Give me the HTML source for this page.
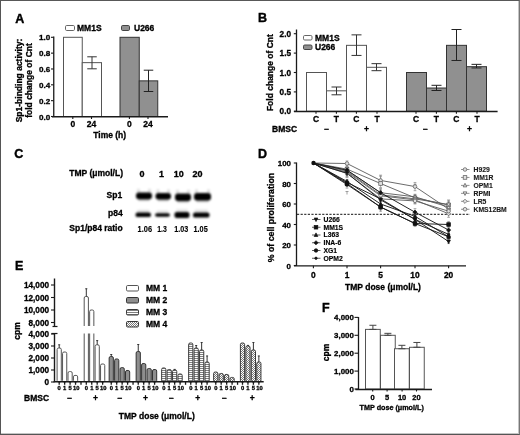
<!DOCTYPE html>
<html><head><meta charset="utf-8"><style>
html,body{margin:0;padding:0;background:#fff;}
.fig{position:relative;width:520px;height:435px;overflow:hidden;background:#fff;}
.fig svg{position:absolute;left:0;top:0;}
.frame{position:absolute;left:0;top:0;width:520px;height:435px;box-sizing:border-box;border-left:1px solid #555;border-top:1px solid #585858;border-right:1px solid #777;border-bottom:1px solid #555;box-shadow:inset -1px -1px 0 #c4c4c4;pointer-events:none;}
</style></head><body>
<div class="fig">
<svg width="520" height="435" viewBox="0 0 520 435" font-family="'Liberation Sans', Arial, sans-serif" font-weight="bold">
<text x="15.3" y="23.3" font-size="12.5" text-anchor="start" fill="#000" stroke="#000" stroke-width="0.4" >A</text>
<rect x="65.5" y="25.5" width="9" height="5" fill="#fff" stroke="#666" stroke-width="1" rx="1.2"/>
<text x="77" y="31" font-size="8.5" text-anchor="start" fill="#000" stroke="#000" stroke-width="0.3" >MM1S</text>
<rect x="121.5" y="25.5" width="8" height="5" fill="#909090" stroke="#444" stroke-width="1" rx="1.2"/>
<text x="134" y="31" font-size="8.5" text-anchor="start" fill="#000" stroke="#000" stroke-width="0.3" >U266</text>
<text transform="translate(22.4,80.5) rotate(-90)" font-size="8.5" text-anchor="middle" fill="#000" stroke="#000" stroke-width="0.3">Sp1-binding activity:</text>
<text transform="translate(32,80.5) rotate(-90)" font-size="8.5" text-anchor="middle" fill="#000" stroke="#000" stroke-width="0.3">fold change of Cnt</text>
<line x1="53.75" y1="36.5" x2="53.75" y2="117" stroke="#1a1a1a" stroke-width="1.3" />
<line x1="51" y1="116.5" x2="53.75" y2="116.5" stroke="#1a1a1a" stroke-width="1.1" />
<text x="50.3" y="119.5" font-size="8.1" text-anchor="end" fill="#000" stroke="#000" stroke-width="0.3" >0.0</text>
<line x1="51" y1="100.66" x2="53.75" y2="100.66" stroke="#1a1a1a" stroke-width="1.1" />
<text x="50.3" y="103.66" font-size="8.1" text-anchor="end" fill="#000" stroke="#000" stroke-width="0.3" >0.2</text>
<line x1="51" y1="84.82" x2="53.75" y2="84.82" stroke="#1a1a1a" stroke-width="1.1" />
<text x="50.3" y="87.82" font-size="8.1" text-anchor="end" fill="#000" stroke="#000" stroke-width="0.3" >0.4</text>
<line x1="51" y1="68.97999999999999" x2="53.75" y2="68.97999999999999" stroke="#1a1a1a" stroke-width="1.1" />
<text x="50.3" y="71.97999999999999" font-size="8.1" text-anchor="end" fill="#000" stroke="#000" stroke-width="0.3" >0.6</text>
<line x1="51" y1="53.13999999999999" x2="53.75" y2="53.13999999999999" stroke="#1a1a1a" stroke-width="1.1" />
<text x="50.3" y="56.13999999999999" font-size="8.1" text-anchor="end" fill="#000" stroke="#000" stroke-width="0.3" >0.8</text>
<line x1="51" y1="37.3" x2="53.75" y2="37.3" stroke="#1a1a1a" stroke-width="1.1" />
<text x="50.3" y="40.3" font-size="8.1" text-anchor="end" fill="#000" stroke="#000" stroke-width="0.3" >1.0</text>
<rect x="63.5" y="37.3" width="18.75" height="79.2" fill="#fff" stroke="#555" stroke-width="1" />
<rect x="82.25" y="62.64399999999999" width="19.25" height="53.85600000000001" fill="#fff" stroke="#555" stroke-width="1" />
<rect x="120" y="37.3" width="19.25" height="79.2" fill="#909090" stroke="#333" stroke-width="1" />
<rect x="139.25" y="80.86" width="18.5" height="35.64" fill="#909090" stroke="#333" stroke-width="1" />
<line x1="92" y1="56.8" x2="92" y2="68.8" stroke="#333" stroke-width="1" />
<line x1="87.25" y1="56.8" x2="96.75" y2="56.8" stroke="#333" stroke-width="1" />
<line x1="87.25" y1="68.8" x2="96.75" y2="68.8" stroke="#333" stroke-width="1" />
<line x1="148.5" y1="70.2" x2="148.5" y2="91.5" stroke="#222" stroke-width="1" />
<line x1="143.75" y1="70.2" x2="153.25" y2="70.2" stroke="#222" stroke-width="1" />
<line x1="143.75" y1="91.5" x2="153.25" y2="91.5" stroke="#222" stroke-width="1" />
<line x1="52" y1="116.75" x2="168" y2="116.75" stroke="#1a1a1a" stroke-width="1.3" />
<line x1="72.8" y1="116.75" x2="72.8" y2="119" stroke="#1a1a1a" stroke-width="1.1" />
<text x="72.8" y="127" font-size="8.5" text-anchor="middle" fill="#000" stroke="#000" stroke-width="0.3" >0</text>
<line x1="91.5" y1="116.75" x2="91.5" y2="119" stroke="#1a1a1a" stroke-width="1.1" />
<text x="91.5" y="127" font-size="8.5" text-anchor="middle" fill="#000" stroke="#000" stroke-width="0.3" >24</text>
<line x1="129.4" y1="116.75" x2="129.4" y2="119" stroke="#1a1a1a" stroke-width="1.1" />
<text x="129.4" y="127" font-size="8.5" text-anchor="middle" fill="#000" stroke="#000" stroke-width="0.3" >0</text>
<line x1="148" y1="116.75" x2="148" y2="119" stroke="#1a1a1a" stroke-width="1.1" />
<text x="148" y="127" font-size="8.5" text-anchor="middle" fill="#000" stroke="#000" stroke-width="0.3" >24</text>
<text x="109.7" y="137.5" font-size="8.5" text-anchor="middle" fill="#000" stroke="#000" stroke-width="0.3" >Time (h)</text>
<text x="258" y="22.4" font-size="12.5" text-anchor="start" fill="#000" stroke="#000" stroke-width="0.4" >B</text>
<line x1="296.5" y1="29.5" x2="296.5" y2="111.8" stroke="#1a1a1a" stroke-width="1.3" />
<line x1="293.8" y1="111.3" x2="296.5" y2="111.3" stroke="#1a1a1a" stroke-width="1.1" />
<text x="291" y="114.3" font-size="8.2" text-anchor="end" fill="#000" stroke="#000" stroke-width="0.3" >0.0</text>
<line x1="293.8" y1="91.9" x2="296.5" y2="91.9" stroke="#1a1a1a" stroke-width="1.1" />
<text x="291" y="94.9" font-size="8.2" text-anchor="end" fill="#000" stroke="#000" stroke-width="0.3" >0.5</text>
<line x1="293.8" y1="72.5" x2="296.5" y2="72.5" stroke="#1a1a1a" stroke-width="1.1" />
<text x="291" y="75.5" font-size="8.2" text-anchor="end" fill="#000" stroke="#000" stroke-width="0.3" >1.0</text>
<line x1="293.8" y1="53.1" x2="296.5" y2="53.1" stroke="#1a1a1a" stroke-width="1.1" />
<text x="291" y="56.1" font-size="8.2" text-anchor="end" fill="#000" stroke="#000" stroke-width="0.3" >1.5</text>
<line x1="293.8" y1="33.7" x2="296.5" y2="33.7" stroke="#1a1a1a" stroke-width="1.1" />
<text x="291" y="36.7" font-size="8.2" text-anchor="end" fill="#000" stroke="#000" stroke-width="0.3" >2.0</text>
<text transform="translate(273,72.6) rotate(-90)" font-size="8.5" text-anchor="middle" fill="#000" stroke="#000" stroke-width="0.3">Fold change of Cnt</text>
<rect x="303.5" y="35.5" width="8.5" height="4.5" fill="#fff" stroke="#666" stroke-width="1" rx="1.2"/>
<text x="315" y="40.8" font-size="8.5" text-anchor="start" fill="#000" stroke="#000" stroke-width="0.3" >MM1S</text>
<rect x="303.5" y="45" width="8.5" height="4.5" fill="#909090" stroke="#444" stroke-width="1" rx="1.2"/>
<text x="315" y="50.3" font-size="8.5" text-anchor="start" fill="#000" stroke="#000" stroke-width="0.3" >U266</text>
<rect x="306.5" y="72.5" width="20" height="38.8" fill="#fff" stroke="#555" stroke-width="1" />
<rect x="326.5" y="90.8136" width="20" height="20.486400000000003" fill="#fff" stroke="#555" stroke-width="1" />
<rect x="346.5" y="45.34" width="20" height="65.96" fill="#fff" stroke="#555" stroke-width="1" />
<rect x="366.5" y="67.30080000000001" width="20" height="43.99919999999999" fill="#fff" stroke="#555" stroke-width="1" />
<rect x="406.5" y="72.5" width="20" height="38.8" fill="#909090" stroke="#333" stroke-width="1" />
<rect x="426.5" y="88.02" width="20" height="23.28" fill="#909090" stroke="#333" stroke-width="1" />
<rect x="446.5" y="45.34" width="20" height="65.96" fill="#909090" stroke="#333" stroke-width="1" />
<rect x="466.5" y="66.68" width="20" height="44.61999999999999" fill="#909090" stroke="#333" stroke-width="1" />
<line x1="336.5" y1="87.0112" x2="336.5" y2="94.81" stroke="#333" stroke-width="1" />
<line x1="331.5" y1="87.0112" x2="341.5" y2="87.0112" stroke="#333" stroke-width="1" />
<line x1="331.5" y1="94.81" x2="341.5" y2="94.81" stroke="#333" stroke-width="1" />
<line x1="356.5" y1="34.864000000000004" x2="356.5" y2="55.428000000000004" stroke="#333" stroke-width="1" />
<line x1="351.5" y1="34.864000000000004" x2="361.5" y2="34.864000000000004" stroke="#333" stroke-width="1" />
<line x1="351.5" y1="55.428000000000004" x2="361.5" y2="55.428000000000004" stroke="#333" stroke-width="1" />
<line x1="376.5" y1="63.653600000000004" x2="376.5" y2="70.6764" stroke="#333" stroke-width="1" />
<line x1="371.5" y1="63.653600000000004" x2="381.5" y2="63.653600000000004" stroke="#333" stroke-width="1" />
<line x1="371.5" y1="70.6764" x2="381.5" y2="70.6764" stroke="#333" stroke-width="1" />
<line x1="436.5" y1="85.304" x2="436.5" y2="90.50319999999999" stroke="#222" stroke-width="1" />
<line x1="431.5" y1="85.304" x2="441.5" y2="85.304" stroke="#222" stroke-width="1" />
<line x1="431.5" y1="90.50319999999999" x2="441.5" y2="90.50319999999999" stroke="#222" stroke-width="1" />
<line x1="456.5" y1="29.509600000000006" x2="456.5" y2="60.472" stroke="#222" stroke-width="1" />
<line x1="451.5" y1="29.509600000000006" x2="461.5" y2="29.509600000000006" stroke="#222" stroke-width="1" />
<line x1="451.5" y1="60.472" x2="461.5" y2="60.472" stroke="#222" stroke-width="1" />
<line x1="476.5" y1="64.352" x2="476.5" y2="67.96039999999999" stroke="#222" stroke-width="1" />
<line x1="471.5" y1="64.352" x2="481.5" y2="64.352" stroke="#222" stroke-width="1" />
<line x1="471.5" y1="67.96039999999999" x2="481.5" y2="67.96039999999999" stroke="#222" stroke-width="1" />
<line x1="294" y1="111.5" x2="497.6" y2="111.5" stroke="#1a1a1a" stroke-width="1.3" />
<line x1="316" y1="111.5" x2="316" y2="113.8" stroke="#1a1a1a" stroke-width="1.1" />
<text x="316" y="122" font-size="8.5" text-anchor="middle" fill="#000" stroke="#000" stroke-width="0.3" >C</text>
<line x1="336.4" y1="111.5" x2="336.4" y2="113.8" stroke="#1a1a1a" stroke-width="1.1" />
<text x="336.4" y="122" font-size="8.5" text-anchor="middle" fill="#000" stroke="#000" stroke-width="0.3" >T</text>
<line x1="356.4" y1="111.5" x2="356.4" y2="113.8" stroke="#1a1a1a" stroke-width="1.1" />
<text x="356.4" y="122" font-size="8.5" text-anchor="middle" fill="#000" stroke="#000" stroke-width="0.3" >C</text>
<line x1="377" y1="111.5" x2="377" y2="113.8" stroke="#1a1a1a" stroke-width="1.1" />
<text x="377" y="122" font-size="8.5" text-anchor="middle" fill="#000" stroke="#000" stroke-width="0.3" >T</text>
<line x1="416" y1="111.5" x2="416" y2="113.8" stroke="#1a1a1a" stroke-width="1.1" />
<text x="416" y="122" font-size="8.5" text-anchor="middle" fill="#000" stroke="#000" stroke-width="0.3" >C</text>
<line x1="436.4" y1="111.5" x2="436.4" y2="113.8" stroke="#1a1a1a" stroke-width="1.1" />
<text x="436.4" y="122" font-size="8.5" text-anchor="middle" fill="#000" stroke="#000" stroke-width="0.3" >T</text>
<line x1="456.4" y1="111.5" x2="456.4" y2="113.8" stroke="#1a1a1a" stroke-width="1.1" />
<text x="456.4" y="122" font-size="8.5" text-anchor="middle" fill="#000" stroke="#000" stroke-width="0.3" >C</text>
<line x1="477" y1="111.5" x2="477" y2="113.8" stroke="#1a1a1a" stroke-width="1.1" />
<text x="477" y="122" font-size="8.5" text-anchor="middle" fill="#000" stroke="#000" stroke-width="0.3" >T</text>
<text x="272" y="131.5" font-size="8.5" text-anchor="start" fill="#000" stroke="#000" stroke-width="0.3" >BMSC</text>
<text x="326.8" y="132" font-size="8.5" text-anchor="middle" fill="#000" stroke="#000" stroke-width="0.3" >−</text>
<text x="366.6" y="132" font-size="8.5" text-anchor="middle" fill="#000" stroke="#000" stroke-width="0.3" >+</text>
<text x="425.5" y="132" font-size="8.5" text-anchor="middle" fill="#000" stroke="#000" stroke-width="0.3" >−</text>
<text x="469.6" y="132" font-size="8.5" text-anchor="middle" fill="#000" stroke="#000" stroke-width="0.3" >+</text>
<text x="14.3" y="158.1" font-size="12.5" text-anchor="start" fill="#000" stroke="#000" stroke-width="0.4" >C</text>
<text x="69.3" y="175.6" font-size="8.5" text-anchor="start" fill="#000" stroke="#000" stroke-width="0.3" >TMP (μmol/L)</text>
<text x="142.1" y="177.4" font-size="9" text-anchor="middle" fill="#000" stroke="#000" stroke-width="0.3" >0</text>
<text x="161.6" y="177.4" font-size="9" text-anchor="middle" fill="#000" stroke="#000" stroke-width="0.3" >1</text>
<text x="178.8" y="177.4" font-size="9" text-anchor="middle" fill="#000" stroke="#000" stroke-width="0.3" >10</text>
<text x="197.5" y="177.4" font-size="9" text-anchor="middle" fill="#000" stroke="#000" stroke-width="0.3" >20</text>
<text x="122.2" y="198.1" font-size="8.5" text-anchor="end" fill="#000" stroke="#000" stroke-width="0.3" >Sp1</text>
<text x="122.7" y="216.4" font-size="8.5" text-anchor="end" fill="#000" stroke="#000" stroke-width="0.3" >p84</text>
<text x="69.3" y="231.1" font-size="8.5" text-anchor="start" fill="#000" stroke="#000" stroke-width="0.3" >Sp1/p84 ratio</text>
<text x="137.6" y="232.2" font-size="8.5" textLength="14.4" lengthAdjust="spacingAndGlyphs" fill="#000" stroke="#000" stroke-width="0.12">1.06</text>
<text x="157.2" y="232.2" font-size="8.5" textLength="9.6" lengthAdjust="spacingAndGlyphs" fill="#000" stroke="#000" stroke-width="0.12">1.3</text>
<text x="174.3" y="232.2" font-size="8.5" textLength="13.9" lengthAdjust="spacingAndGlyphs" fill="#000" stroke="#000" stroke-width="0.12">1.03</text>
<text x="193.5" y="232.2" font-size="8.5" textLength="14.2" lengthAdjust="spacingAndGlyphs" fill="#000" stroke="#000" stroke-width="0.12">1.05</text>
<g filter="url(#blur1)">
<rect x="136" y="192.4" width="16" height="6.8" rx="3" fill="#000"/>
<rect x="137" y="188.4" width="3" height="4.5" rx="1.5" fill="#000" opacity="0.13"/>
<rect x="148" y="188.4" width="3" height="4.5" rx="1.5" fill="#000" opacity="0.13"/>
<rect x="138" y="198.9" width="12" height="2" rx="1" fill="#000" opacity="0.22"/>
<rect x="155.5" y="193.0" width="15.5" height="6.6" rx="3" fill="#000"/>
<rect x="156.5" y="189.0" width="3" height="4.5" rx="1.5" fill="#000" opacity="0.13"/>
<rect x="167" y="189.0" width="3" height="4.5" rx="1.5" fill="#000" opacity="0.13"/>
<rect x="157.5" y="199.3" width="11.5" height="2" rx="1" fill="#000" opacity="0.22"/>
<rect x="175" y="193.39999999999998" width="16" height="7.6" rx="3" fill="#000"/>
<rect x="176" y="189.39999999999998" width="3" height="4.5" rx="1.5" fill="#000" opacity="0.13"/>
<rect x="187" y="189.39999999999998" width="3" height="4.5" rx="1.5" fill="#000" opacity="0.13"/>
<rect x="177" y="200.7" width="12" height="2" rx="1" fill="#000" opacity="0.22"/>
<rect x="194" y="193.10000000000002" width="17" height="7.4" rx="3" fill="#000"/>
<rect x="195" y="189.10000000000002" width="3" height="4.5" rx="1.5" fill="#000" opacity="0.13"/>
<rect x="207" y="189.10000000000002" width="3" height="4.5" rx="1.5" fill="#000" opacity="0.13"/>
<rect x="196" y="200.2" width="13" height="2" rx="1" fill="#000" opacity="0.22"/>
<rect x="135.5" y="212.5" width="15.5" height="4.6" rx="2.2" fill="#000"/>
<rect x="137.0" y="209.7" width="12.5" height="2" rx="1" fill="#000" opacity="0.12"/>
<rect x="155" y="213.2" width="15" height="3.6" rx="2.2" fill="#000"/>
<rect x="156.5" y="210.39999999999998" width="12" height="2" rx="1" fill="#000" opacity="0.12"/>
<rect x="174.5" y="212.0" width="15.0" height="6" rx="2.2" fill="#000"/>
<rect x="176.0" y="209.2" width="12.0" height="2" rx="1" fill="#000" opacity="0.12"/>
<rect x="193" y="212.4" width="16.5" height="5.2" rx="2.2" fill="#000"/>
<rect x="194.5" y="209.6" width="13.5" height="2" rx="1" fill="#000" opacity="0.12"/>
</g>
<text x="258" y="158.1" font-size="12.5" text-anchor="start" fill="#000" stroke="#000" stroke-width="0.4" >D</text>
<line x1="296.5" y1="162.5" x2="296.5" y2="266" stroke="#1a1a1a" stroke-width="1.3" />
<line x1="293.8" y1="265.5" x2="296.5" y2="265.5" stroke="#1a1a1a" stroke-width="1.1" />
<text x="291" y="268.5" font-size="7.9" text-anchor="end" fill="#000" stroke="#000" stroke-width="0.3" >0</text>
<line x1="293.8" y1="245.0" x2="296.5" y2="245.0" stroke="#1a1a1a" stroke-width="1.1" />
<text x="291" y="248.0" font-size="7.9" text-anchor="end" fill="#000" stroke="#000" stroke-width="0.3" >20</text>
<line x1="293.8" y1="224.5" x2="296.5" y2="224.5" stroke="#1a1a1a" stroke-width="1.1" />
<text x="291" y="227.5" font-size="7.9" text-anchor="end" fill="#000" stroke="#000" stroke-width="0.3" >40</text>
<line x1="293.8" y1="204.0" x2="296.5" y2="204.0" stroke="#1a1a1a" stroke-width="1.1" />
<text x="291" y="207.0" font-size="7.9" text-anchor="end" fill="#000" stroke="#000" stroke-width="0.3" >60</text>
<line x1="293.8" y1="183.5" x2="296.5" y2="183.5" stroke="#1a1a1a" stroke-width="1.1" />
<text x="291" y="186.5" font-size="7.9" text-anchor="end" fill="#000" stroke="#000" stroke-width="0.3" >80</text>
<line x1="293.8" y1="163.0" x2="296.5" y2="163.0" stroke="#1a1a1a" stroke-width="1.1" />
<text x="291" y="166.0" font-size="7.9" text-anchor="end" fill="#000" stroke="#000" stroke-width="0.3" >100</text>
<text transform="translate(274.2,217.6) rotate(-90)" font-size="8.8" text-anchor="middle" fill="#000" stroke="#000" stroke-width="0.3">% of cell proliferation</text>
<line x1="294" y1="265.8" x2="466" y2="265.8" stroke="#1a1a1a" stroke-width="1.3" />
<line x1="313.4" y1="265.8" x2="313.4" y2="268.3" stroke="#1a1a1a" stroke-width="1.1" />
<text x="313.4" y="278" font-size="8.4" text-anchor="middle" fill="#000" stroke="#000" stroke-width="0.3" >0</text>
<line x1="347" y1="265.8" x2="347" y2="268.3" stroke="#1a1a1a" stroke-width="1.1" />
<text x="347" y="278" font-size="8.4" text-anchor="middle" fill="#000" stroke="#000" stroke-width="0.3" >1</text>
<line x1="380.6" y1="265.8" x2="380.6" y2="268.3" stroke="#1a1a1a" stroke-width="1.1" />
<text x="380.6" y="278" font-size="8.4" text-anchor="middle" fill="#000" stroke="#000" stroke-width="0.3" >5</text>
<line x1="415" y1="265.8" x2="415" y2="268.3" stroke="#1a1a1a" stroke-width="1.1" />
<text x="415" y="278" font-size="8.4" text-anchor="middle" fill="#000" stroke="#000" stroke-width="0.3" >10</text>
<line x1="448.6" y1="265.8" x2="448.6" y2="268.3" stroke="#1a1a1a" stroke-width="1.1" />
<text x="448.6" y="278" font-size="8.4" text-anchor="middle" fill="#000" stroke="#000" stroke-width="0.3" >20</text>
<text x="383" y="290.2" font-size="8.5" text-anchor="middle" fill="#000" stroke="#000" stroke-width="0.3" >TMP dose (μmol/L)</text>
<line x1="297" y1="214.3" x2="470" y2="214.3" stroke="#111" stroke-width="1" stroke-dasharray="2.2,1.4"/>
<polyline points="313.4,163.00 347,163.51 380.6,180.43 415,186.57 448.6,209.12" fill="none" stroke="#5a5a5a" stroke-width="0.9"/>
<polyline points="313.4,163.00 347,169.15 380.6,183.50 415,197.85 448.6,205.03" fill="none" stroke="#5a5a5a" stroke-width="0.9"/>
<polyline points="313.4,163.00 347,170.18 380.6,192.73 415,196.82 448.6,207.07" fill="none" stroke="#5a5a5a" stroke-width="0.9"/>
<polyline points="313.4,163.00 347,171.20 380.6,194.78 415,198.88 448.6,204.51" fill="none" stroke="#5a5a5a" stroke-width="0.9"/>
<polyline points="313.4,163.00 347,172.23 380.6,195.80 415,199.90 448.6,213.74" fill="none" stroke="#5a5a5a" stroke-width="0.9"/>
<polyline points="313.4,163.00 347,173.25 380.6,198.88 415,200.93 448.6,211.18" fill="none" stroke="#5a5a5a" stroke-width="0.9"/>
<polyline points="313.4,163.00 347,173.25 380.6,199.90 415,219.38 448.6,241.52" fill="none" stroke="#1a1a1a" stroke-width="0.95"/>
<polyline points="313.4,163.00 347,183.50 380.6,207.07 415,223.47 448.6,224.50" fill="none" stroke="#1a1a1a" stroke-width="0.95"/>
<polyline points="313.4,163.00 347,181.45 380.6,204.00 415,216.30 448.6,236.80" fill="none" stroke="#1a1a1a" stroke-width="0.95"/>
<polyline points="313.4,163.00 347,170.18 380.6,192.73 415,212.20 448.6,230.03" fill="none" stroke="#1a1a1a" stroke-width="0.95"/>
<polyline points="313.4,163.00 347,184.53 380.6,207.07 415,223.47 448.6,236.80" fill="none" stroke="#1a1a1a" stroke-width="0.95"/>
<polyline points="313.4,163.00 347,182.48 380.6,198.88 415,219.38 448.6,234.34" fill="none" stroke="#1a1a1a" stroke-width="0.95"/>
<line x1="347" y1="160.95" x2="347" y2="166.075" stroke="#8a8a8a" stroke-width="0.7" />
<line x1="345.6" y1="160.95" x2="348.4" y2="160.95" stroke="#8a8a8a" stroke-width="0.7" />
<line x1="345.6" y1="166.075" x2="348.4" y2="166.075" stroke="#8a8a8a" stroke-width="0.7" />
<line x1="380.6" y1="176.325" x2="380.6" y2="184.525" stroke="#8a8a8a" stroke-width="0.7" />
<line x1="379.20000000000005" y1="176.325" x2="382.0" y2="176.325" stroke="#8a8a8a" stroke-width="0.7" />
<line x1="379.20000000000005" y1="184.525" x2="382.0" y2="184.525" stroke="#8a8a8a" stroke-width="0.7" />
<line x1="415" y1="182.47500000000002" x2="415" y2="190.675" stroke="#8a8a8a" stroke-width="0.7" />
<line x1="413.6" y1="182.47500000000002" x2="416.4" y2="182.47500000000002" stroke="#8a8a8a" stroke-width="0.7" />
<line x1="413.6" y1="190.675" x2="416.4" y2="190.675" stroke="#8a8a8a" stroke-width="0.7" />
<line x1="448.6" y1="206.5625" x2="448.6" y2="211.6875" stroke="#8a8a8a" stroke-width="0.7" />
<line x1="447.20000000000005" y1="206.5625" x2="450.0" y2="206.5625" stroke="#8a8a8a" stroke-width="0.7" />
<line x1="447.20000000000005" y1="211.6875" x2="450.0" y2="211.6875" stroke="#8a8a8a" stroke-width="0.7" />
<line x1="347" y1="166.075" x2="347" y2="172.22500000000002" stroke="#8a8a8a" stroke-width="0.7" />
<line x1="345.6" y1="166.075" x2="348.4" y2="166.075" stroke="#8a8a8a" stroke-width="0.7" />
<line x1="345.6" y1="172.22500000000002" x2="348.4" y2="172.22500000000002" stroke="#8a8a8a" stroke-width="0.7" />
<line x1="380.6" y1="179.4" x2="380.6" y2="187.60000000000002" stroke="#8a8a8a" stroke-width="0.7" />
<line x1="379.20000000000005" y1="179.4" x2="382.0" y2="179.4" stroke="#8a8a8a" stroke-width="0.7" />
<line x1="379.20000000000005" y1="187.60000000000002" x2="382.0" y2="187.60000000000002" stroke="#8a8a8a" stroke-width="0.7" />
<line x1="415" y1="194.2625" x2="415" y2="201.4375" stroke="#8a8a8a" stroke-width="0.7" />
<line x1="413.6" y1="194.2625" x2="416.4" y2="194.2625" stroke="#8a8a8a" stroke-width="0.7" />
<line x1="413.6" y1="201.4375" x2="416.4" y2="201.4375" stroke="#8a8a8a" stroke-width="0.7" />
<line x1="448.6" y1="200.925" x2="448.6" y2="209.125" stroke="#8a8a8a" stroke-width="0.7" />
<line x1="447.20000000000005" y1="200.925" x2="450.0" y2="200.925" stroke="#8a8a8a" stroke-width="0.7" />
<line x1="447.20000000000005" y1="209.125" x2="450.0" y2="209.125" stroke="#8a8a8a" stroke-width="0.7" />
<line x1="347" y1="168.125" x2="347" y2="172.22500000000002" stroke="#8a8a8a" stroke-width="0.7" />
<line x1="345.6" y1="168.125" x2="348.4" y2="168.125" stroke="#8a8a8a" stroke-width="0.7" />
<line x1="345.6" y1="172.22500000000002" x2="348.4" y2="172.22500000000002" stroke="#8a8a8a" stroke-width="0.7" />
<line x1="380.6" y1="188.625" x2="380.6" y2="196.825" stroke="#8a8a8a" stroke-width="0.7" />
<line x1="379.20000000000005" y1="188.625" x2="382.0" y2="188.625" stroke="#8a8a8a" stroke-width="0.7" />
<line x1="379.20000000000005" y1="196.825" x2="382.0" y2="196.825" stroke="#8a8a8a" stroke-width="0.7" />
<line x1="415" y1="194.775" x2="415" y2="198.875" stroke="#8a8a8a" stroke-width="0.7" />
<line x1="413.6" y1="194.775" x2="416.4" y2="194.775" stroke="#8a8a8a" stroke-width="0.7" />
<line x1="413.6" y1="198.875" x2="416.4" y2="198.875" stroke="#8a8a8a" stroke-width="0.7" />
<line x1="448.6" y1="203.4875" x2="448.6" y2="210.6625" stroke="#8a8a8a" stroke-width="0.7" />
<line x1="447.20000000000005" y1="203.4875" x2="450.0" y2="203.4875" stroke="#8a8a8a" stroke-width="0.7" />
<line x1="447.20000000000005" y1="210.6625" x2="450.0" y2="210.6625" stroke="#8a8a8a" stroke-width="0.7" />
<line x1="347" y1="168.125" x2="347" y2="174.275" stroke="#8a8a8a" stroke-width="0.7" />
<line x1="345.6" y1="168.125" x2="348.4" y2="168.125" stroke="#8a8a8a" stroke-width="0.7" />
<line x1="345.6" y1="174.275" x2="348.4" y2="174.275" stroke="#8a8a8a" stroke-width="0.7" />
<line x1="380.6" y1="190.675" x2="380.6" y2="198.875" stroke="#8a8a8a" stroke-width="0.7" />
<line x1="379.20000000000005" y1="190.675" x2="382.0" y2="190.675" stroke="#8a8a8a" stroke-width="0.7" />
<line x1="379.20000000000005" y1="198.875" x2="382.0" y2="198.875" stroke="#8a8a8a" stroke-width="0.7" />
<line x1="415" y1="196.3125" x2="415" y2="201.4375" stroke="#8a8a8a" stroke-width="0.7" />
<line x1="413.6" y1="196.3125" x2="416.4" y2="196.3125" stroke="#8a8a8a" stroke-width="0.7" />
<line x1="413.6" y1="201.4375" x2="416.4" y2="201.4375" stroke="#8a8a8a" stroke-width="0.7" />
<line x1="448.6" y1="201.95" x2="448.6" y2="207.075" stroke="#8a8a8a" stroke-width="0.7" />
<line x1="447.20000000000005" y1="201.95" x2="450.0" y2="201.95" stroke="#8a8a8a" stroke-width="0.7" />
<line x1="447.20000000000005" y1="207.075" x2="450.0" y2="207.075" stroke="#8a8a8a" stroke-width="0.7" />
<line x1="347" y1="168.6375" x2="347" y2="175.8125" stroke="#8a8a8a" stroke-width="0.7" />
<line x1="345.6" y1="168.6375" x2="348.4" y2="168.6375" stroke="#8a8a8a" stroke-width="0.7" />
<line x1="345.6" y1="175.8125" x2="348.4" y2="175.8125" stroke="#8a8a8a" stroke-width="0.7" />
<line x1="380.6" y1="191.7" x2="380.6" y2="199.9" stroke="#8a8a8a" stroke-width="0.7" />
<line x1="379.20000000000005" y1="191.7" x2="382.0" y2="191.7" stroke="#8a8a8a" stroke-width="0.7" />
<line x1="379.20000000000005" y1="199.9" x2="382.0" y2="199.9" stroke="#8a8a8a" stroke-width="0.7" />
<line x1="415" y1="195.8" x2="415" y2="204.0" stroke="#8a8a8a" stroke-width="0.7" />
<line x1="413.6" y1="195.8" x2="416.4" y2="195.8" stroke="#8a8a8a" stroke-width="0.7" />
<line x1="413.6" y1="204.0" x2="416.4" y2="204.0" stroke="#8a8a8a" stroke-width="0.7" />
<line x1="448.6" y1="210.15" x2="448.6" y2="217.325" stroke="#8a8a8a" stroke-width="0.7" />
<line x1="447.20000000000005" y1="210.15" x2="450.0" y2="210.15" stroke="#8a8a8a" stroke-width="0.7" />
<line x1="447.20000000000005" y1="217.325" x2="450.0" y2="217.325" stroke="#8a8a8a" stroke-width="0.7" />
<line x1="347" y1="169.66250000000002" x2="347" y2="176.8375" stroke="#8a8a8a" stroke-width="0.7" />
<line x1="345.6" y1="169.66250000000002" x2="348.4" y2="169.66250000000002" stroke="#8a8a8a" stroke-width="0.7" />
<line x1="345.6" y1="176.8375" x2="348.4" y2="176.8375" stroke="#8a8a8a" stroke-width="0.7" />
<line x1="380.6" y1="196.3125" x2="380.6" y2="201.4375" stroke="#8a8a8a" stroke-width="0.7" />
<line x1="379.20000000000005" y1="196.3125" x2="382.0" y2="196.3125" stroke="#8a8a8a" stroke-width="0.7" />
<line x1="379.20000000000005" y1="201.4375" x2="382.0" y2="201.4375" stroke="#8a8a8a" stroke-width="0.7" />
<line x1="415" y1="198.3625" x2="415" y2="203.4875" stroke="#8a8a8a" stroke-width="0.7" />
<line x1="413.6" y1="198.3625" x2="416.4" y2="198.3625" stroke="#8a8a8a" stroke-width="0.7" />
<line x1="413.6" y1="203.4875" x2="416.4" y2="203.4875" stroke="#8a8a8a" stroke-width="0.7" />
<line x1="448.6" y1="208.6125" x2="448.6" y2="213.7375" stroke="#8a8a8a" stroke-width="0.7" />
<line x1="447.20000000000005" y1="208.6125" x2="450.0" y2="208.6125" stroke="#8a8a8a" stroke-width="0.7" />
<line x1="447.20000000000005" y1="213.7375" x2="450.0" y2="213.7375" stroke="#8a8a8a" stroke-width="0.7" />
<line x1="347" y1="169.15" x2="347" y2="177.35000000000002" stroke="#8a8a8a" stroke-width="0.7" />
<line x1="345.6" y1="169.15" x2="348.4" y2="169.15" stroke="#8a8a8a" stroke-width="0.7" />
<line x1="345.6" y1="177.35000000000002" x2="348.4" y2="177.35000000000002" stroke="#8a8a8a" stroke-width="0.7" />
<line x1="380.6" y1="196.3125" x2="380.6" y2="203.4875" stroke="#8a8a8a" stroke-width="0.7" />
<line x1="379.20000000000005" y1="196.3125" x2="382.0" y2="196.3125" stroke="#8a8a8a" stroke-width="0.7" />
<line x1="379.20000000000005" y1="203.4875" x2="382.0" y2="203.4875" stroke="#8a8a8a" stroke-width="0.7" />
<line x1="415" y1="217.325" x2="415" y2="221.425" stroke="#8a8a8a" stroke-width="0.7" />
<line x1="413.6" y1="217.325" x2="416.4" y2="217.325" stroke="#8a8a8a" stroke-width="0.7" />
<line x1="413.6" y1="221.425" x2="416.4" y2="221.425" stroke="#8a8a8a" stroke-width="0.7" />
<line x1="448.6" y1="239.465" x2="448.6" y2="243.565" stroke="#8a8a8a" stroke-width="0.7" />
<line x1="447.20000000000005" y1="239.465" x2="450.0" y2="239.465" stroke="#8a8a8a" stroke-width="0.7" />
<line x1="447.20000000000005" y1="243.565" x2="450.0" y2="243.565" stroke="#8a8a8a" stroke-width="0.7" />
<line x1="347" y1="180.9375" x2="347" y2="186.0625" stroke="#8a8a8a" stroke-width="0.7" />
<line x1="345.6" y1="180.9375" x2="348.4" y2="180.9375" stroke="#8a8a8a" stroke-width="0.7" />
<line x1="345.6" y1="186.0625" x2="348.4" y2="186.0625" stroke="#8a8a8a" stroke-width="0.7" />
<line x1="380.6" y1="202.97500000000002" x2="380.6" y2="211.175" stroke="#8a8a8a" stroke-width="0.7" />
<line x1="379.20000000000005" y1="202.97500000000002" x2="382.0" y2="202.97500000000002" stroke="#8a8a8a" stroke-width="0.7" />
<line x1="379.20000000000005" y1="211.175" x2="382.0" y2="211.175" stroke="#8a8a8a" stroke-width="0.7" />
<line x1="415" y1="221.425" x2="415" y2="225.525" stroke="#8a8a8a" stroke-width="0.7" />
<line x1="413.6" y1="221.425" x2="416.4" y2="221.425" stroke="#8a8a8a" stroke-width="0.7" />
<line x1="413.6" y1="225.525" x2="416.4" y2="225.525" stroke="#8a8a8a" stroke-width="0.7" />
<line x1="448.6" y1="221.425" x2="448.6" y2="227.575" stroke="#8a8a8a" stroke-width="0.7" />
<line x1="447.20000000000005" y1="221.425" x2="450.0" y2="221.425" stroke="#8a8a8a" stroke-width="0.7" />
<line x1="447.20000000000005" y1="227.575" x2="450.0" y2="227.575" stroke="#8a8a8a" stroke-width="0.7" />
<line x1="347" y1="179.4" x2="347" y2="183.5" stroke="#8a8a8a" stroke-width="0.7" />
<line x1="345.6" y1="179.4" x2="348.4" y2="179.4" stroke="#8a8a8a" stroke-width="0.7" />
<line x1="345.6" y1="183.5" x2="348.4" y2="183.5" stroke="#8a8a8a" stroke-width="0.7" />
<line x1="380.6" y1="200.925" x2="380.6" y2="207.075" stroke="#8a8a8a" stroke-width="0.7" />
<line x1="379.20000000000005" y1="200.925" x2="382.0" y2="200.925" stroke="#8a8a8a" stroke-width="0.7" />
<line x1="379.20000000000005" y1="207.075" x2="382.0" y2="207.075" stroke="#8a8a8a" stroke-width="0.7" />
<line x1="415" y1="212.7125" x2="415" y2="219.8875" stroke="#8a8a8a" stroke-width="0.7" />
<line x1="413.6" y1="212.7125" x2="416.4" y2="212.7125" stroke="#8a8a8a" stroke-width="0.7" />
<line x1="413.6" y1="219.8875" x2="416.4" y2="219.8875" stroke="#8a8a8a" stroke-width="0.7" />
<line x1="448.6" y1="232.7" x2="448.6" y2="240.9" stroke="#8a8a8a" stroke-width="0.7" />
<line x1="447.20000000000005" y1="232.7" x2="450.0" y2="232.7" stroke="#8a8a8a" stroke-width="0.7" />
<line x1="447.20000000000005" y1="240.9" x2="450.0" y2="240.9" stroke="#8a8a8a" stroke-width="0.7" />
<line x1="347" y1="166.5875" x2="347" y2="173.7625" stroke="#8a8a8a" stroke-width="0.7" />
<line x1="345.6" y1="166.5875" x2="348.4" y2="166.5875" stroke="#8a8a8a" stroke-width="0.7" />
<line x1="345.6" y1="173.7625" x2="348.4" y2="173.7625" stroke="#8a8a8a" stroke-width="0.7" />
<line x1="380.6" y1="189.1375" x2="380.6" y2="196.3125" stroke="#8a8a8a" stroke-width="0.7" />
<line x1="379.20000000000005" y1="189.1375" x2="382.0" y2="189.1375" stroke="#8a8a8a" stroke-width="0.7" />
<line x1="379.20000000000005" y1="196.3125" x2="382.0" y2="196.3125" stroke="#8a8a8a" stroke-width="0.7" />
<line x1="415" y1="208.6125" x2="415" y2="215.7875" stroke="#8a8a8a" stroke-width="0.7" />
<line x1="413.6" y1="208.6125" x2="416.4" y2="208.6125" stroke="#8a8a8a" stroke-width="0.7" />
<line x1="413.6" y1="215.7875" x2="416.4" y2="215.7875" stroke="#8a8a8a" stroke-width="0.7" />
<line x1="448.6" y1="225.935" x2="448.6" y2="234.135" stroke="#8a8a8a" stroke-width="0.7" />
<line x1="447.20000000000005" y1="225.935" x2="450.0" y2="225.935" stroke="#8a8a8a" stroke-width="0.7" />
<line x1="447.20000000000005" y1="234.135" x2="450.0" y2="234.135" stroke="#8a8a8a" stroke-width="0.7" />
<line x1="347" y1="180.9375" x2="347" y2="188.1125" stroke="#8a8a8a" stroke-width="0.7" />
<line x1="345.6" y1="180.9375" x2="348.4" y2="180.9375" stroke="#8a8a8a" stroke-width="0.7" />
<line x1="345.6" y1="188.1125" x2="348.4" y2="188.1125" stroke="#8a8a8a" stroke-width="0.7" />
<line x1="380.6" y1="204.5125" x2="380.6" y2="209.6375" stroke="#8a8a8a" stroke-width="0.7" />
<line x1="379.20000000000005" y1="204.5125" x2="382.0" y2="204.5125" stroke="#8a8a8a" stroke-width="0.7" />
<line x1="379.20000000000005" y1="209.6375" x2="382.0" y2="209.6375" stroke="#8a8a8a" stroke-width="0.7" />
<line x1="415" y1="220.4" x2="415" y2="226.55" stroke="#8a8a8a" stroke-width="0.7" />
<line x1="413.6" y1="220.4" x2="416.4" y2="220.4" stroke="#8a8a8a" stroke-width="0.7" />
<line x1="413.6" y1="226.55" x2="416.4" y2="226.55" stroke="#8a8a8a" stroke-width="0.7" />
<line x1="448.6" y1="234.75" x2="448.6" y2="238.85" stroke="#8a8a8a" stroke-width="0.7" />
<line x1="447.20000000000005" y1="234.75" x2="450.0" y2="234.75" stroke="#8a8a8a" stroke-width="0.7" />
<line x1="447.20000000000005" y1="238.85" x2="450.0" y2="238.85" stroke="#8a8a8a" stroke-width="0.7" />
<line x1="347" y1="180.425" x2="347" y2="184.525" stroke="#8a8a8a" stroke-width="0.7" />
<line x1="345.6" y1="180.425" x2="348.4" y2="180.425" stroke="#8a8a8a" stroke-width="0.7" />
<line x1="345.6" y1="184.525" x2="348.4" y2="184.525" stroke="#8a8a8a" stroke-width="0.7" />
<line x1="380.6" y1="196.3125" x2="380.6" y2="201.4375" stroke="#8a8a8a" stroke-width="0.7" />
<line x1="379.20000000000005" y1="196.3125" x2="382.0" y2="196.3125" stroke="#8a8a8a" stroke-width="0.7" />
<line x1="379.20000000000005" y1="201.4375" x2="382.0" y2="201.4375" stroke="#8a8a8a" stroke-width="0.7" />
<line x1="415" y1="215.7875" x2="415" y2="222.9625" stroke="#8a8a8a" stroke-width="0.7" />
<line x1="413.6" y1="215.7875" x2="416.4" y2="215.7875" stroke="#8a8a8a" stroke-width="0.7" />
<line x1="413.6" y1="222.9625" x2="416.4" y2="222.9625" stroke="#8a8a8a" stroke-width="0.7" />
<line x1="448.6" y1="231.7775" x2="448.6" y2="236.9025" stroke="#8a8a8a" stroke-width="0.7" />
<line x1="447.20000000000005" y1="231.7775" x2="450.0" y2="231.7775" stroke="#8a8a8a" stroke-width="0.7" />
<line x1="447.20000000000005" y1="236.9025" x2="450.0" y2="236.9025" stroke="#8a8a8a" stroke-width="0.7" />
<line x1="347" y1="191.5" x2="347" y2="194.5" stroke="#888" stroke-width="0.8" />
<line x1="345.5" y1="191.5" x2="348.5" y2="191.5" stroke="#888" stroke-width="0.8" />
<line x1="380.6" y1="175.2" x2="380.6" y2="178" stroke="#888" stroke-width="0.8" />
<line x1="379.1" y1="175.2" x2="382.1" y2="175.2" stroke="#888" stroke-width="0.8" />
<line x1="380.6" y1="209" x2="380.6" y2="211.5" stroke="#888" stroke-width="0.8" />
<line x1="379.1" y1="209" x2="382.1" y2="209" stroke="#888" stroke-width="0.8" />
<line x1="415" y1="184.3" x2="415" y2="187" stroke="#888" stroke-width="0.8" />
<line x1="413.5" y1="184.3" x2="416.5" y2="184.3" stroke="#888" stroke-width="0.8" />
<line x1="415" y1="224" x2="415" y2="226" stroke="#888" stroke-width="0.8" />
<line x1="413.5" y1="224" x2="416.5" y2="224" stroke="#888" stroke-width="0.8" />
<line x1="448.6" y1="200" x2="448.6" y2="203" stroke="#888" stroke-width="0.8" />
<line x1="447.1" y1="200" x2="450.1" y2="200" stroke="#888" stroke-width="0.8" />
<line x1="448.6" y1="241" x2="448.6" y2="243.5" stroke="#888" stroke-width="0.8" />
<line x1="447.1" y1="241" x2="450.1" y2="241" stroke="#888" stroke-width="0.8" />
<circle cx="347" cy="163.5125" r="1.8" fill="#e0e0e0" stroke="#555" stroke-width="0.7"/>
<circle cx="380.6" cy="180.425" r="1.8" fill="#e0e0e0" stroke="#555" stroke-width="0.7"/>
<circle cx="415" cy="186.575" r="1.8" fill="#e0e0e0" stroke="#555" stroke-width="0.7"/>
<circle cx="448.6" cy="209.125" r="1.8" fill="#e0e0e0" stroke="#555" stroke-width="0.7"/>
<rect x="345.2" y="167.35" width="3.6" height="3.6" fill="#e0e0e0" stroke="#555" stroke-width="0.7"/>
<rect x="378.8" y="181.7" width="3.6" height="3.6" fill="#e0e0e0" stroke="#555" stroke-width="0.7"/>
<rect x="413.2" y="196.05" width="3.6" height="3.6" fill="#e0e0e0" stroke="#555" stroke-width="0.7"/>
<rect x="446.8" y="203.225" width="3.6" height="3.6" fill="#e0e0e0" stroke="#555" stroke-width="0.7"/>
<polygon points="347,168.075 348.8,171.675 345.2,171.675" fill="#e0e0e0" stroke="#555" stroke-width="0.7"/>
<polygon points="380.6,190.625 382.40000000000003,194.22500000000002 378.8,194.22500000000002" fill="#e0e0e0" stroke="#555" stroke-width="0.7"/>
<polygon points="415,194.72499999999997 416.8,198.325 413.2,198.325" fill="#e0e0e0" stroke="#555" stroke-width="0.7"/>
<polygon points="448.6,204.97499999999997 450.40000000000003,208.575 446.8,208.575" fill="#e0e0e0" stroke="#555" stroke-width="0.7"/>
<polygon points="347,173.3 348.8,169.7 345.2,169.7" fill="#e0e0e0" stroke="#555" stroke-width="0.7"/>
<polygon points="380.6,196.87500000000003 382.40000000000003,193.275 378.8,193.275" fill="#e0e0e0" stroke="#555" stroke-width="0.7"/>
<polygon points="415,200.97500000000002 416.8,197.375 413.2,197.375" fill="#e0e0e0" stroke="#555" stroke-width="0.7"/>
<polygon points="448.6,206.6125 450.40000000000003,203.0125 446.8,203.0125" fill="#e0e0e0" stroke="#555" stroke-width="0.7"/>
<polygon points="347,170.125 349.1,172.22500000000002 347,174.32500000000005 344.9,172.22500000000002" fill="#e0e0e0" stroke="#555" stroke-width="0.7"/>
<polygon points="380.6,193.7 382.70000000000005,195.8 380.6,197.90000000000003 378.5,195.8" fill="#e0e0e0" stroke="#555" stroke-width="0.7"/>
<polygon points="415,197.79999999999998 417.1,199.9 415,202.00000000000003 412.9,199.9" fill="#e0e0e0" stroke="#555" stroke-width="0.7"/>
<polygon points="448.6,211.6375 450.70000000000005,213.7375 448.6,215.83750000000003 446.5,213.7375" fill="#e0e0e0" stroke="#555" stroke-width="0.7"/>
<circle cx="347" cy="173.25" r="1.8" fill="#e0e0e0" stroke="#555" stroke-width="0.7"/>
<circle cx="380.6" cy="198.875" r="1.8" fill="#e0e0e0" stroke="#555" stroke-width="0.7"/>
<circle cx="415" cy="200.925" r="1.8" fill="#e0e0e0" stroke="#555" stroke-width="0.7"/>
<circle cx="448.6" cy="211.175" r="1.8" fill="#e0e0e0" stroke="#555" stroke-width="0.7"/>
<polygon points="347,175.35000000000002 348.8,171.75 345.2,171.75" fill="#111" stroke="#111" stroke-width="0.7"/>
<polygon points="380.6,202.00000000000003 382.40000000000003,198.4 378.8,198.4" fill="#111" stroke="#111" stroke-width="0.7"/>
<polygon points="415,221.47500000000002 416.8,217.875 413.2,217.875" fill="#111" stroke="#111" stroke-width="0.7"/>
<polygon points="448.6,243.61500000000004 450.40000000000003,240.01500000000001 446.8,240.01500000000001" fill="#111" stroke="#111" stroke-width="0.7"/>
<rect x="345.2" y="181.7" width="3.6" height="3.6" fill="#111" stroke="#111" stroke-width="0.7"/>
<rect x="378.8" y="205.27499999999998" width="3.6" height="3.6" fill="#111" stroke="#111" stroke-width="0.7"/>
<rect x="413.2" y="221.67499999999998" width="3.6" height="3.6" fill="#111" stroke="#111" stroke-width="0.7"/>
<rect x="446.8" y="222.7" width="3.6" height="3.6" fill="#111" stroke="#111" stroke-width="0.7"/>
<polygon points="347,179.34999999999997 348.8,182.95 345.2,182.95" fill="#111" stroke="#111" stroke-width="0.7"/>
<polygon points="380.6,201.89999999999998 382.40000000000003,205.5 378.8,205.5" fill="#111" stroke="#111" stroke-width="0.7"/>
<polygon points="415,214.2 416.8,217.8 413.2,217.8" fill="#111" stroke="#111" stroke-width="0.7"/>
<polygon points="448.6,234.7 450.40000000000003,238.3 446.8,238.3" fill="#111" stroke="#111" stroke-width="0.7"/>
<polygon points="347,168.075 349.1,170.175 347,172.27500000000003 344.9,170.175" fill="#111" stroke="#111" stroke-width="0.7"/>
<polygon points="380.6,190.625 382.70000000000005,192.72500000000002 380.6,194.82500000000005 378.5,192.72500000000002" fill="#111" stroke="#111" stroke-width="0.7"/>
<polygon points="415,210.09999999999997 417.1,212.2 415,214.3 412.9,212.2" fill="#111" stroke="#111" stroke-width="0.7"/>
<polygon points="448.6,227.93499999999997 450.70000000000005,230.035 448.6,232.13500000000002 446.5,230.035" fill="#111" stroke="#111" stroke-width="0.7"/>
<circle cx="347" cy="184.525" r="1.8" fill="#111" stroke="#111" stroke-width="0.7"/>
<circle cx="380.6" cy="207.075" r="1.8" fill="#111" stroke="#111" stroke-width="0.7"/>
<circle cx="415" cy="223.475" r="1.8" fill="#111" stroke="#111" stroke-width="0.7"/>
<circle cx="448.6" cy="236.8" r="1.8" fill="#111" stroke="#111" stroke-width="0.7"/>
<circle cx="347" cy="182.47500000000002" r="1.2" fill="#111" stroke="#111" stroke-width="0.7"/>
<circle cx="380.6" cy="198.875" r="1.2" fill="#111" stroke="#111" stroke-width="0.7"/>
<circle cx="415" cy="219.375" r="1.2" fill="#111" stroke="#111" stroke-width="0.7"/>
<circle cx="448.6" cy="234.34" r="1.2" fill="#111" stroke="#111" stroke-width="0.7"/>
<circle cx="313.5" cy="163.0" r="2.2" fill="#111"/>
<line x1="312" y1="219.5" x2="320.5" y2="219.5" stroke="#333" stroke-width="0.8" />
<polygon points="316,221.60000000000002 317.8,218.0 314.2,218.0" fill="#111" stroke="#111" stroke-width="0.7"/>
<text x="323.5" y="221.9" font-size="6.8" text-anchor="start" fill="#000" stroke="#000" stroke-width="0.15" >U266</text>
<line x1="312" y1="227.25" x2="320.5" y2="227.25" stroke="#333" stroke-width="0.8" />
<rect x="314.2" y="225.45" width="3.6" height="3.6" fill="#111" stroke="#111" stroke-width="0.7"/>
<text x="323.5" y="229.65" font-size="6.8" text-anchor="start" fill="#000" stroke="#000" stroke-width="0.15" >MM1S</text>
<line x1="312" y1="235.0" x2="320.5" y2="235.0" stroke="#333" stroke-width="0.8" />
<polygon points="316,232.89999999999998 317.8,236.5 314.2,236.5" fill="#111" stroke="#111" stroke-width="0.7"/>
<text x="323.5" y="237.4" font-size="6.8" text-anchor="start" fill="#000" stroke="#000" stroke-width="0.15" >L363</text>
<line x1="312" y1="242.75" x2="320.5" y2="242.75" stroke="#333" stroke-width="0.8" />
<polygon points="316,240.64999999999998 318.1,242.75 316,244.85000000000002 313.9,242.75" fill="#111" stroke="#111" stroke-width="0.7"/>
<text x="323.5" y="245.15" font-size="6.8" text-anchor="start" fill="#000" stroke="#000" stroke-width="0.15" >INA-6</text>
<line x1="312" y1="250.5" x2="320.5" y2="250.5" stroke="#333" stroke-width="0.8" />
<circle cx="316" cy="250.5" r="1.8" fill="#111" stroke="#111" stroke-width="0.7"/>
<text x="323.5" y="252.9" font-size="6.8" text-anchor="start" fill="#000" stroke="#000" stroke-width="0.15" >XG1</text>
<line x1="312" y1="258.25" x2="320.5" y2="258.25" stroke="#333" stroke-width="0.8" />
<circle cx="316" cy="258.25" r="1.2" fill="#111" stroke="#111" stroke-width="0.7"/>
<text x="323.5" y="260.65" font-size="6.8" text-anchor="start" fill="#000" stroke="#000" stroke-width="0.15" >OPM2</text>
<line x1="461" y1="169.5" x2="469.5" y2="169.5" stroke="#777" stroke-width="0.8" />
<circle cx="465" cy="169.5" r="1.8" fill="#e0e0e0" stroke="#555" stroke-width="0.7"/>
<text x="473.5" y="171.9" font-size="6.8" text-anchor="start" fill="#1a1a1a" stroke="#1a1a1a" stroke-width="0.12" >H929</text>
<line x1="461" y1="177.45" x2="469.5" y2="177.45" stroke="#777" stroke-width="0.8" />
<rect x="463.2" y="175.64999999999998" width="3.6" height="3.6" fill="#e0e0e0" stroke="#555" stroke-width="0.7"/>
<text x="473.5" y="179.85" font-size="6.8" text-anchor="start" fill="#1a1a1a" stroke="#1a1a1a" stroke-width="0.12" >MM1R</text>
<line x1="461" y1="185.4" x2="469.5" y2="185.4" stroke="#777" stroke-width="0.8" />
<polygon points="465,183.29999999999998 466.8,186.9 463.2,186.9" fill="#e0e0e0" stroke="#555" stroke-width="0.7"/>
<text x="473.5" y="187.8" font-size="6.8" text-anchor="start" fill="#1a1a1a" stroke="#1a1a1a" stroke-width="0.12" >OPM1</text>
<line x1="461" y1="193.35" x2="469.5" y2="193.35" stroke="#777" stroke-width="0.8" />
<polygon points="465,195.45000000000002 466.8,191.85 463.2,191.85" fill="#e0e0e0" stroke="#555" stroke-width="0.7"/>
<text x="473.5" y="195.75" font-size="6.8" text-anchor="start" fill="#1a1a1a" stroke="#1a1a1a" stroke-width="0.12" >RPMI</text>
<line x1="461" y1="201.3" x2="469.5" y2="201.3" stroke="#777" stroke-width="0.8" />
<polygon points="465,199.2 467.1,201.3 465,203.40000000000003 462.9,201.3" fill="#e0e0e0" stroke="#555" stroke-width="0.7"/>
<text x="473.5" y="203.70000000000002" font-size="6.8" text-anchor="start" fill="#1a1a1a" stroke="#1a1a1a" stroke-width="0.12" >LR5</text>
<line x1="461" y1="209.25" x2="469.5" y2="209.25" stroke="#777" stroke-width="0.8" />
<circle cx="465" cy="209.25" r="1.8" fill="#e0e0e0" stroke="#555" stroke-width="0.7"/>
<text x="473.5" y="211.65" font-size="6.8" text-anchor="start" fill="#1a1a1a" stroke="#1a1a1a" stroke-width="0.12" >KMS12BM</text>
<text x="15" y="270.4" font-size="12.5" text-anchor="start" fill="#000" stroke="#000" stroke-width="0.4" >E</text>
<line x1="54.5" y1="278.5" x2="54.5" y2="326.5" stroke="#1a1a1a" stroke-width="1.4" />
<line x1="52.5" y1="326.5" x2="57.5" y2="326.5" stroke="#1a1a1a" stroke-width="1.2" />
<line x1="54.5" y1="333.5" x2="54.5" y2="382" stroke="#1a1a1a" stroke-width="1.4" />
<line x1="51.5" y1="333.5" x2="57.5" y2="333.5" stroke="#1a1a1a" stroke-width="1.2" />
<line x1="51" y1="322.5" x2="54.5" y2="322.5" stroke="#1a1a1a" stroke-width="1.1" />
<text x="49" y="325.9" font-size="8.2" text-anchor="end" fill="#000" stroke="#000" stroke-width="0.3" >8,000</text>
<line x1="51" y1="310.0" x2="54.5" y2="310.0" stroke="#1a1a1a" stroke-width="1.1" />
<text x="49" y="313.4" font-size="8.2" text-anchor="end" fill="#000" stroke="#000" stroke-width="0.3" >10,000</text>
<line x1="51" y1="297.5" x2="54.5" y2="297.5" stroke="#1a1a1a" stroke-width="1.1" />
<text x="49" y="300.9" font-size="8.2" text-anchor="end" fill="#000" stroke="#000" stroke-width="0.3" >12,000</text>
<line x1="51" y1="285.0" x2="54.5" y2="285.0" stroke="#1a1a1a" stroke-width="1.1" />
<text x="49" y="288.4" font-size="8.2" text-anchor="end" fill="#000" stroke="#000" stroke-width="0.3" >14,000</text>
<line x1="51" y1="382.0" x2="54.5" y2="382.0" stroke="#1a1a1a" stroke-width="1.1" />
<text x="49" y="385.4" font-size="8.2" text-anchor="end" fill="#000" stroke="#000" stroke-width="0.3" >0</text>
<line x1="51" y1="370.0" x2="54.5" y2="370.0" stroke="#1a1a1a" stroke-width="1.1" />
<text x="49" y="373.4" font-size="8.2" text-anchor="end" fill="#000" stroke="#000" stroke-width="0.3" >1,000</text>
<line x1="51" y1="358.0" x2="54.5" y2="358.0" stroke="#1a1a1a" stroke-width="1.1" />
<text x="49" y="361.4" font-size="8.2" text-anchor="end" fill="#000" stroke="#000" stroke-width="0.3" >2,000</text>
<line x1="51" y1="346.0" x2="54.5" y2="346.0" stroke="#1a1a1a" stroke-width="1.1" />
<text x="49" y="349.4" font-size="8.2" text-anchor="end" fill="#000" stroke="#000" stroke-width="0.3" >3,000</text>
<line x1="51" y1="334.0" x2="54.5" y2="334.0" stroke="#1a1a1a" stroke-width="1.1" />
<text x="49" y="337.4" font-size="8.2" text-anchor="end" fill="#000" stroke="#000" stroke-width="0.3" >4,000</text>
<text transform="translate(20.3,331) rotate(-90)" font-size="8.5" text-anchor="middle" fill="#000" stroke="#000" stroke-width="0.3">cpm</text>
<defs>
<pattern id="hstripe" patternUnits="userSpaceOnUse" width="4" height="2"><rect width="4" height="2" fill="#fff"/><rect width="4" height="1" fill="#808080"/></pattern>
<pattern id="checker" patternUnits="userSpaceOnUse" width="2" height="2"><rect width="2" height="2" fill="#fff"/><rect width="1" height="1" fill="#7a7a7a"/><rect x="1" y="1" width="1" height="1" fill="#7a7a7a"/></pattern>
<filter id="blur1" x="-20%" y="-50%" width="140%" height="200%"><feGaussianBlur stdDeviation="0.85"/></filter>
</defs>
<rect x="126.5" y="285.5" width="12" height="5.5" fill="#fff" stroke="#555" stroke-width="1" rx="1.2"/>
<text x="146" y="291.1" font-size="8.5" text-anchor="start" fill="#000" stroke="#000" stroke-width="0.3" >MM 1</text>
<rect x="126.5" y="297.5" width="12" height="5.5" fill="#8e8e8e" stroke="#333" stroke-width="1" rx="1.2"/>
<text x="146" y="303.1" font-size="8.5" text-anchor="start" fill="#000" stroke="#000" stroke-width="0.3" >MM 2</text>
<rect x="126.5" y="309.5" width="12" height="5.5" fill="url(#hstripe)" stroke="#3a3a3a" stroke-width="1" rx="1.2"/>
<text x="146" y="315.1" font-size="8.5" text-anchor="start" fill="#000" stroke="#000" stroke-width="0.3" >MM 3</text>
<rect x="126.5" y="321.5" width="12" height="5.5" fill="url(#checker)" stroke="#3a3a3a" stroke-width="1" rx="1.2"/>
<text x="146" y="327.1" font-size="8.5" text-anchor="start" fill="#000" stroke="#000" stroke-width="0.3" >MM 4</text>
<rect x="57.1" y="348.04" width="4.2" height="33.95999999999998" fill="#fff" stroke="#555" stroke-width="1" rx="1.5"/>
<line x1="59.2" y1="344.8" x2="59.2" y2="348.04" stroke="#333" stroke-width="1" />
<line x1="58.2" y1="344.8" x2="60.2" y2="344.8" stroke="#333" stroke-width="1" />
<rect x="62.550000000000004" y="352.0" width="4.2" height="30.0" fill="#fff" stroke="#555" stroke-width="1" rx="1.5"/>
<rect x="68.00000000000001" y="371.56" width="4.2" height="10.439999999999998" fill="#fff" stroke="#555" stroke-width="1" rx="1.5"/>
<rect x="73.45000000000002" y="375.4" width="4.2" height="6.600000000000023" fill="#fff" stroke="#555" stroke-width="1" rx="1.5"/>
<rect x="84.2" y="333.5" width="4.2" height="48.5" fill="#fff" stroke="none"/>
<path d="M84.2,333.5 V382 M88.39999999999999,333.5 V382" stroke="#555" stroke-width="1" fill="none"/>
<rect x="84.2" y="296.5" width="4.2" height="29.5" fill="#fff" stroke="none"/>
<path d="M84.2,326 V298.0 Q84.2,296.5 85.7,296.5 H86.89999999999999 Q88.39999999999999,296.5 88.39999999999999,298.0 V326" stroke="#555" stroke-width="1" fill="none"/>
<line x1="86.3" y1="288.75" x2="86.3" y2="296.5" stroke="#333" stroke-width="1" />
<line x1="85.3" y1="288.75" x2="87.3" y2="288.75" stroke="#333" stroke-width="1" />
<rect x="89.65" y="333.5" width="4.2" height="48.5" fill="#fff" stroke="none"/>
<path d="M89.65,333.5 V382 M93.85,333.5 V382" stroke="#555" stroke-width="1" fill="none"/>
<rect x="89.65" y="310.0" width="4.2" height="16.0" fill="#fff" stroke="none"/>
<path d="M89.65,326 V311.5 Q89.65,310.0 91.15,310.0 H92.35 Q93.85,310.0 93.85,311.5 V326" stroke="#555" stroke-width="1" fill="none"/>
<rect x="95.10000000000001" y="344.8" width="4.2" height="37.19999999999999" fill="#fff" stroke="#555" stroke-width="1" rx="1.5"/>
<line x1="97.2" y1="340.6" x2="97.2" y2="344.8" stroke="#333" stroke-width="1" />
<line x1="96.2" y1="340.6" x2="98.2" y2="340.6" stroke="#333" stroke-width="1" />
<rect x="100.55000000000001" y="364.0" width="4.2" height="18.0" fill="#fff" stroke="#555" stroke-width="1" rx="1.5"/>
<rect x="109.15" y="356.5" width="4.2" height="25.5" fill="#8e8e8e" stroke="#333" stroke-width="1" rx="1.5"/>
<line x1="111.25" y1="354.52" x2="111.25" y2="356.5" stroke="#333" stroke-width="1" />
<line x1="110.25" y1="354.52" x2="112.25" y2="354.52" stroke="#333" stroke-width="1" />
<rect x="114.60000000000001" y="358.96" width="4.2" height="23.04000000000002" fill="#8e8e8e" stroke="#333" stroke-width="1" rx="1.5"/>
<rect x="120.05000000000001" y="367.6" width="4.2" height="14.399999999999977" fill="#8e8e8e" stroke="#333" stroke-width="1" rx="1.5"/>
<rect x="125.5" y="370.48" width="4.2" height="11.519999999999982" fill="#8e8e8e" stroke="#333" stroke-width="1" rx="1.5"/>
<rect x="136.15" y="351.52" width="4.2" height="30.480000000000018" fill="#8e8e8e" stroke="#333" stroke-width="1" rx="1.5"/>
<line x1="138.25" y1="344.5" x2="138.25" y2="351.52" stroke="#333" stroke-width="1" />
<line x1="137.25" y1="344.5" x2="139.25" y2="344.5" stroke="#333" stroke-width="1" />
<rect x="141.6" y="363.52" width="4.2" height="18.480000000000018" fill="#8e8e8e" stroke="#333" stroke-width="1" rx="1.5"/>
<rect x="147.05" y="368.5" width="4.2" height="13.5" fill="#8e8e8e" stroke="#333" stroke-width="1" rx="1.5"/>
<rect x="152.5" y="369.52" width="4.2" height="12.480000000000018" fill="#8e8e8e" stroke="#333" stroke-width="1" rx="1.5"/>
<rect x="161.65" y="367.96" width="4.2" height="14.04000000000002" fill="url(#hstripe)" stroke="#3a3a3a" stroke-width="1" rx="1.5"/>
<rect x="167.1" y="369.52" width="4.2" height="12.480000000000018" fill="url(#hstripe)" stroke="#3a3a3a" stroke-width="1" rx="1.5"/>
<rect x="172.55" y="370.0" width="4.2" height="12.0" fill="url(#hstripe)" stroke="#3a3a3a" stroke-width="1" rx="1.5"/>
<line x1="174.65" y1="369.4" x2="174.65" y2="370.0" stroke="#333" stroke-width="1" />
<line x1="173.65" y1="369.4" x2="175.65" y2="369.4" stroke="#333" stroke-width="1" />
<rect x="178.0" y="373.96" width="4.2" height="8.04000000000002" fill="url(#hstripe)" stroke="#3a3a3a" stroke-width="1" rx="1.5"/>
<rect x="188.65" y="343.0" width="4.2" height="39.0" fill="url(#hstripe)" stroke="#3a3a3a" stroke-width="1" rx="1.5"/>
<rect x="194.1" y="348.04" width="4.2" height="33.95999999999998" fill="url(#hstripe)" stroke="#3a3a3a" stroke-width="1" rx="1.5"/>
<line x1="196.2" y1="345.52" x2="196.2" y2="348.04" stroke="#333" stroke-width="1" />
<line x1="195.2" y1="345.52" x2="197.2" y2="345.52" stroke="#333" stroke-width="1" />
<rect x="199.55" y="349.96" width="4.2" height="32.04000000000002" fill="url(#hstripe)" stroke="#3a3a3a" stroke-width="1" rx="1.5"/>
<line x1="201.65" y1="342.52" x2="201.65" y2="349.96" stroke="#333" stroke-width="1" />
<line x1="200.65" y1="342.52" x2="202.65" y2="342.52" stroke="#333" stroke-width="1" />
<rect x="205.0" y="361.96" width="4.2" height="20.04000000000002" fill="url(#hstripe)" stroke="#3a3a3a" stroke-width="1" rx="1.5"/>
<line x1="207.1" y1="355.96" x2="207.1" y2="361.96" stroke="#333" stroke-width="1" />
<line x1="206.1" y1="355.96" x2="208.1" y2="355.96" stroke="#333" stroke-width="1" />
<rect x="213.65" y="372.04" width="4.2" height="9.95999999999998" fill="url(#checker)" stroke="#3a3a3a" stroke-width="1" rx="1.5"/>
<rect x="219.1" y="373.48" width="4.2" height="8.519999999999982" fill="url(#checker)" stroke="#3a3a3a" stroke-width="1" rx="1.5"/>
<rect x="224.55" y="374.44" width="4.2" height="7.560000000000002" fill="url(#checker)" stroke="#3a3a3a" stroke-width="1" rx="1.5"/>
<rect x="230.0" y="377.44" width="4.2" height="4.560000000000002" fill="url(#checker)" stroke="#3a3a3a" stroke-width="1" rx="1.5"/>
<rect x="240.4" y="343.0" width="4.2" height="39.0" fill="url(#checker)" stroke="#3a3a3a" stroke-width="1" rx="1.5"/>
<rect x="245.85" y="346.0" width="4.2" height="36.0" fill="url(#checker)" stroke="#3a3a3a" stroke-width="1" rx="1.5"/>
<line x1="247.95" y1="345.4" x2="247.95" y2="346.0" stroke="#333" stroke-width="1" />
<line x1="246.95" y1="345.4" x2="248.95" y2="345.4" stroke="#333" stroke-width="1" />
<rect x="251.3" y="349.96" width="4.2" height="32.04000000000002" fill="url(#checker)" stroke="#3a3a3a" stroke-width="1" rx="1.5"/>
<line x1="253.4" y1="342.52" x2="253.4" y2="349.96" stroke="#333" stroke-width="1" />
<line x1="252.4" y1="342.52" x2="254.4" y2="342.52" stroke="#333" stroke-width="1" />
<rect x="256.75" y="361.96" width="4.2" height="20.04000000000002" fill="url(#checker)" stroke="#3a3a3a" stroke-width="1" rx="1.5"/>
<line x1="258.85" y1="355.96" x2="258.85" y2="361.96" stroke="#333" stroke-width="1" />
<line x1="257.85" y1="355.96" x2="259.85" y2="355.96" stroke="#333" stroke-width="1" />
<line x1="53.5" y1="381.8" x2="263.7" y2="381.8" stroke="#1a1a1a" stroke-width="1.6" />
<line x1="59.2" y1="381.8" x2="59.2" y2="384.8" stroke="#1a1a1a" stroke-width="1.3" />
<text x="59.2" y="390.4" font-size="5.8" text-anchor="middle" fill="#000" stroke="#000" stroke-width="0.3" >0</text>
<line x1="64.65" y1="381.8" x2="64.65" y2="384.8" stroke="#1a1a1a" stroke-width="1.3" />
<text x="64.65" y="390.4" font-size="5.8" text-anchor="middle" fill="#000" stroke="#000" stroke-width="0.3" >1</text>
<line x1="70.10000000000001" y1="381.8" x2="70.10000000000001" y2="384.8" stroke="#1a1a1a" stroke-width="1.3" />
<text x="70.10000000000001" y="390.4" font-size="5.8" text-anchor="middle" fill="#000" stroke="#000" stroke-width="0.3" >5</text>
<line x1="75.55000000000001" y1="381.8" x2="75.55000000000001" y2="384.8" stroke="#1a1a1a" stroke-width="1.3" />
<text x="76.15" y="390.4" font-size="5.8" text-anchor="middle" fill="#000" stroke="#000" stroke-width="0.3" >10</text>
<line x1="81.0" y1="381.8" x2="81.0" y2="384.8" stroke="#1a1a1a" stroke-width="1.3" />
<text x="69.75" y="401" font-size="8.5" text-anchor="middle" fill="#000" stroke="#000" stroke-width="0.3" >−</text>
<line x1="86.3" y1="381.8" x2="86.3" y2="384.8" stroke="#1a1a1a" stroke-width="1.3" />
<text x="86.3" y="390.4" font-size="5.8" text-anchor="middle" fill="#000" stroke="#000" stroke-width="0.3" >0</text>
<line x1="91.75" y1="381.8" x2="91.75" y2="384.8" stroke="#1a1a1a" stroke-width="1.3" />
<text x="91.75" y="390.4" font-size="5.8" text-anchor="middle" fill="#000" stroke="#000" stroke-width="0.3" >1</text>
<line x1="97.2" y1="381.8" x2="97.2" y2="384.8" stroke="#1a1a1a" stroke-width="1.3" />
<text x="97.2" y="390.4" font-size="5.8" text-anchor="middle" fill="#000" stroke="#000" stroke-width="0.3" >5</text>
<line x1="102.65" y1="381.8" x2="102.65" y2="384.8" stroke="#1a1a1a" stroke-width="1.3" />
<text x="103.25" y="390.4" font-size="5.8" text-anchor="middle" fill="#000" stroke="#000" stroke-width="0.3" >10</text>
<text x="95.5" y="401" font-size="8.5" text-anchor="middle" fill="#000" stroke="#000" stroke-width="0.3" >+</text>
<line x1="111.25" y1="381.8" x2="111.25" y2="384.8" stroke="#1a1a1a" stroke-width="1.3" />
<text x="111.25" y="390.4" font-size="5.8" text-anchor="middle" fill="#000" stroke="#000" stroke-width="0.3" >0</text>
<line x1="116.7" y1="381.8" x2="116.7" y2="384.8" stroke="#1a1a1a" stroke-width="1.3" />
<text x="116.7" y="390.4" font-size="5.8" text-anchor="middle" fill="#000" stroke="#000" stroke-width="0.3" >1</text>
<line x1="122.15" y1="381.8" x2="122.15" y2="384.8" stroke="#1a1a1a" stroke-width="1.3" />
<text x="122.15" y="390.4" font-size="5.8" text-anchor="middle" fill="#000" stroke="#000" stroke-width="0.3" >5</text>
<line x1="127.6" y1="381.8" x2="127.6" y2="384.8" stroke="#1a1a1a" stroke-width="1.3" />
<text x="128.2" y="390.4" font-size="5.8" text-anchor="middle" fill="#000" stroke="#000" stroke-width="0.3" >10</text>
<line x1="133.05" y1="381.8" x2="133.05" y2="384.8" stroke="#1a1a1a" stroke-width="1.3" />
<text x="120" y="401" font-size="8.5" text-anchor="middle" fill="#000" stroke="#000" stroke-width="0.3" >−</text>
<line x1="138.25" y1="381.8" x2="138.25" y2="384.8" stroke="#1a1a1a" stroke-width="1.3" />
<text x="138.25" y="390.4" font-size="5.8" text-anchor="middle" fill="#000" stroke="#000" stroke-width="0.3" >0</text>
<line x1="143.7" y1="381.8" x2="143.7" y2="384.8" stroke="#1a1a1a" stroke-width="1.3" />
<text x="143.7" y="390.4" font-size="5.8" text-anchor="middle" fill="#000" stroke="#000" stroke-width="0.3" >1</text>
<line x1="149.15" y1="381.8" x2="149.15" y2="384.8" stroke="#1a1a1a" stroke-width="1.3" />
<text x="149.15" y="390.4" font-size="5.8" text-anchor="middle" fill="#000" stroke="#000" stroke-width="0.3" >5</text>
<line x1="154.6" y1="381.8" x2="154.6" y2="384.8" stroke="#1a1a1a" stroke-width="1.3" />
<text x="155.2" y="390.4" font-size="5.8" text-anchor="middle" fill="#000" stroke="#000" stroke-width="0.3" >10</text>
<text x="145.5" y="401" font-size="8.5" text-anchor="middle" fill="#000" stroke="#000" stroke-width="0.3" >+</text>
<line x1="163.75" y1="381.8" x2="163.75" y2="384.8" stroke="#1a1a1a" stroke-width="1.3" />
<text x="163.75" y="390.4" font-size="5.8" text-anchor="middle" fill="#000" stroke="#000" stroke-width="0.3" >0</text>
<line x1="169.2" y1="381.8" x2="169.2" y2="384.8" stroke="#1a1a1a" stroke-width="1.3" />
<text x="169.2" y="390.4" font-size="5.8" text-anchor="middle" fill="#000" stroke="#000" stroke-width="0.3" >1</text>
<line x1="174.65" y1="381.8" x2="174.65" y2="384.8" stroke="#1a1a1a" stroke-width="1.3" />
<text x="174.65" y="390.4" font-size="5.8" text-anchor="middle" fill="#000" stroke="#000" stroke-width="0.3" >5</text>
<line x1="180.1" y1="381.8" x2="180.1" y2="384.8" stroke="#1a1a1a" stroke-width="1.3" />
<text x="180.7" y="390.4" font-size="5.8" text-anchor="middle" fill="#000" stroke="#000" stroke-width="0.3" >10</text>
<line x1="185.55" y1="381.8" x2="185.55" y2="384.8" stroke="#1a1a1a" stroke-width="1.3" />
<text x="171.4" y="401" font-size="8.5" text-anchor="middle" fill="#000" stroke="#000" stroke-width="0.3" >−</text>
<line x1="190.75" y1="381.8" x2="190.75" y2="384.8" stroke="#1a1a1a" stroke-width="1.3" />
<text x="190.75" y="390.4" font-size="5.8" text-anchor="middle" fill="#000" stroke="#000" stroke-width="0.3" >0</text>
<line x1="196.2" y1="381.8" x2="196.2" y2="384.8" stroke="#1a1a1a" stroke-width="1.3" />
<text x="196.2" y="390.4" font-size="5.8" text-anchor="middle" fill="#000" stroke="#000" stroke-width="0.3" >1</text>
<line x1="201.65" y1="381.8" x2="201.65" y2="384.8" stroke="#1a1a1a" stroke-width="1.3" />
<text x="201.65" y="390.4" font-size="5.8" text-anchor="middle" fill="#000" stroke="#000" stroke-width="0.3" >5</text>
<line x1="207.1" y1="381.8" x2="207.1" y2="384.8" stroke="#1a1a1a" stroke-width="1.3" />
<text x="207.7" y="390.4" font-size="5.8" text-anchor="middle" fill="#000" stroke="#000" stroke-width="0.3" >10</text>
<text x="197.8" y="401" font-size="8.5" text-anchor="middle" fill="#000" stroke="#000" stroke-width="0.3" >+</text>
<line x1="215.75" y1="381.8" x2="215.75" y2="384.8" stroke="#1a1a1a" stroke-width="1.3" />
<text x="215.75" y="390.4" font-size="5.8" text-anchor="middle" fill="#000" stroke="#000" stroke-width="0.3" >0</text>
<line x1="221.2" y1="381.8" x2="221.2" y2="384.8" stroke="#1a1a1a" stroke-width="1.3" />
<text x="221.2" y="390.4" font-size="5.8" text-anchor="middle" fill="#000" stroke="#000" stroke-width="0.3" >1</text>
<line x1="226.65" y1="381.8" x2="226.65" y2="384.8" stroke="#1a1a1a" stroke-width="1.3" />
<text x="226.65" y="390.4" font-size="5.8" text-anchor="middle" fill="#000" stroke="#000" stroke-width="0.3" >5</text>
<line x1="232.1" y1="381.8" x2="232.1" y2="384.8" stroke="#1a1a1a" stroke-width="1.3" />
<text x="232.7" y="390.4" font-size="5.8" text-anchor="middle" fill="#000" stroke="#000" stroke-width="0.3" >10</text>
<line x1="237.55" y1="381.8" x2="237.55" y2="384.8" stroke="#1a1a1a" stroke-width="1.3" />
<text x="224.6" y="401" font-size="8.5" text-anchor="middle" fill="#000" stroke="#000" stroke-width="0.3" >−</text>
<line x1="242.5" y1="381.8" x2="242.5" y2="384.8" stroke="#1a1a1a" stroke-width="1.3" />
<text x="242.5" y="390.4" font-size="5.8" text-anchor="middle" fill="#000" stroke="#000" stroke-width="0.3" >0</text>
<line x1="247.95" y1="381.8" x2="247.95" y2="384.8" stroke="#1a1a1a" stroke-width="1.3" />
<text x="247.95" y="390.4" font-size="5.8" text-anchor="middle" fill="#000" stroke="#000" stroke-width="0.3" >1</text>
<line x1="253.4" y1="381.8" x2="253.4" y2="384.8" stroke="#1a1a1a" stroke-width="1.3" />
<text x="253.4" y="390.4" font-size="5.8" text-anchor="middle" fill="#000" stroke="#000" stroke-width="0.3" >5</text>
<line x1="258.85" y1="381.8" x2="258.85" y2="384.8" stroke="#1a1a1a" stroke-width="1.3" />
<text x="259.45000000000005" y="390.4" font-size="5.8" text-anchor="middle" fill="#000" stroke="#000" stroke-width="0.3" >10</text>
<text x="252.3" y="401" font-size="8.5" text-anchor="middle" fill="#000" stroke="#000" stroke-width="0.3" >+</text>
<text x="24" y="400.5" font-size="8.5" text-anchor="start" fill="#000" stroke="#000" stroke-width="0.3" >BMSC</text>
<text x="156.8" y="418.8" font-size="8.5" text-anchor="middle" fill="#000" stroke="#000" stroke-width="0.3" >TMP dose (μmol/L)</text>
<text x="322" y="312.4" font-size="12.5" text-anchor="start" fill="#000" stroke="#000" stroke-width="0.4" >F</text>
<line x1="358.5" y1="317" x2="358.5" y2="389.8" stroke="#1a1a1a" stroke-width="1.3" />
<line x1="354.5" y1="389.0" x2="358.5" y2="389.0" stroke="#1a1a1a" stroke-width="1.1" />
<text x="353.8" y="391.9" font-size="7.9" text-anchor="end" fill="#000" stroke="#000" stroke-width="0.3" >0</text>
<line x1="354.5" y1="371.1" x2="358.5" y2="371.1" stroke="#1a1a1a" stroke-width="1.1" />
<text x="353.8" y="374.0" font-size="7.9" text-anchor="end" fill="#000" stroke="#000" stroke-width="0.3" >1,000</text>
<line x1="354.5" y1="353.2" x2="358.5" y2="353.2" stroke="#1a1a1a" stroke-width="1.1" />
<text x="353.8" y="356.09999999999997" font-size="7.9" text-anchor="end" fill="#000" stroke="#000" stroke-width="0.3" >2,000</text>
<line x1="354.5" y1="335.3" x2="358.5" y2="335.3" stroke="#1a1a1a" stroke-width="1.1" />
<text x="353.8" y="338.2" font-size="7.9" text-anchor="end" fill="#000" stroke="#000" stroke-width="0.3" >3,000</text>
<line x1="354.5" y1="317.4" x2="358.5" y2="317.4" stroke="#1a1a1a" stroke-width="1.1" />
<text x="353.8" y="320.29999999999995" font-size="7.9" text-anchor="end" fill="#000" stroke="#000" stroke-width="0.3" >4,000</text>
<text transform="translate(328.5,352.5) rotate(-90)" font-size="8.5" text-anchor="middle" fill="#000" stroke="#000" stroke-width="0.3">cpm</text>
<rect x="365.5" y="329.39300000000003" width="14.75" height="59.60699999999997" fill="#fff" stroke="#555" stroke-width="1" />
<rect x="380.5" y="335.3" width="14.75" height="53.69999999999999" fill="#fff" stroke="#555" stroke-width="1" />
<rect x="394.5" y="348.725" width="14.75" height="40.27499999999998" fill="#fff" stroke="#555" stroke-width="1" />
<rect x="409.5" y="347.293" width="14.75" height="41.706999999999994" fill="#fff" stroke="#555" stroke-width="1" />
<line x1="372.9" y1="325.276" x2="372.9" y2="329.39300000000003" stroke="#444" stroke-width="1" />
<line x1="369.4" y1="325.276" x2="376.4" y2="325.276" stroke="#444" stroke-width="1" />
<line x1="369.4" y1="329.39300000000003" x2="376.4" y2="329.39300000000003" stroke="#444" stroke-width="1" />
<line x1="387.9" y1="333.331" x2="387.9" y2="335.3" stroke="#444" stroke-width="1" />
<line x1="384.4" y1="333.331" x2="391.4" y2="333.331" stroke="#444" stroke-width="1" />
<line x1="384.4" y1="335.3" x2="391.4" y2="335.3" stroke="#444" stroke-width="1" />
<line x1="401.9" y1="345.324" x2="401.9" y2="348.725" stroke="#444" stroke-width="1" />
<line x1="398.4" y1="345.324" x2="405.4" y2="345.324" stroke="#444" stroke-width="1" />
<line x1="398.4" y1="348.725" x2="405.4" y2="348.725" stroke="#444" stroke-width="1" />
<line x1="416.9" y1="342.46000000000004" x2="416.9" y2="347.293" stroke="#444" stroke-width="1" />
<line x1="413.4" y1="342.46000000000004" x2="420.4" y2="342.46000000000004" stroke="#444" stroke-width="1" />
<line x1="413.4" y1="347.293" x2="420.4" y2="347.293" stroke="#444" stroke-width="1" />
<line x1="355.4" y1="389.5" x2="432" y2="389.5" stroke="#1a1a1a" stroke-width="1.3" />
<line x1="372.7" y1="389.2" x2="372.7" y2="391.5" stroke="#1a1a1a" stroke-width="1.1" />
<text x="372.7" y="399.6" font-size="7.5" text-anchor="middle" fill="#000" stroke="#000" stroke-width="0.3" >0</text>
<line x1="387.1" y1="389.2" x2="387.1" y2="391.5" stroke="#1a1a1a" stroke-width="1.1" />
<text x="387.1" y="399.6" font-size="7.5" text-anchor="middle" fill="#000" stroke="#000" stroke-width="0.3" >5</text>
<line x1="402.1" y1="389.2" x2="402.1" y2="391.5" stroke="#1a1a1a" stroke-width="1.1" />
<text x="402.1" y="399.6" font-size="7.5" text-anchor="middle" fill="#000" stroke="#000" stroke-width="0.3" >10</text>
<line x1="416.5" y1="389.2" x2="416.5" y2="391.5" stroke="#1a1a1a" stroke-width="1.1" />
<text x="416.5" y="399.6" font-size="7.5" text-anchor="middle" fill="#000" stroke="#000" stroke-width="0.3" >20</text>
<text x="391.7" y="409.6" font-size="7.2" text-anchor="middle" fill="#000" stroke="#000" stroke-width="0.3" >TMP dose (μmol/L)</text>
</svg>
<div class="frame"></div>
</div>
</body></html>
